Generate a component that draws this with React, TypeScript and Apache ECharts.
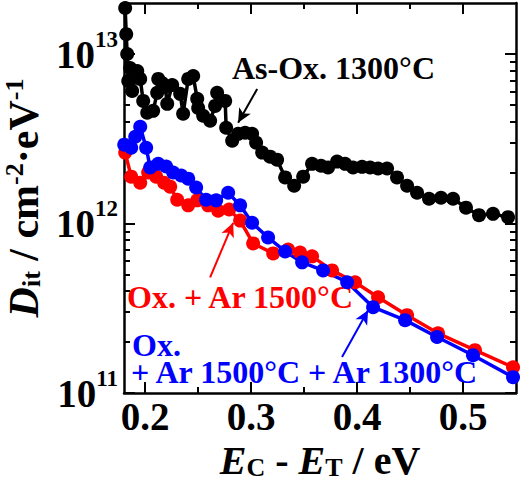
import * as echarts from "echarts";
import React, { useEffect, useRef } from "react";

// As-Ox. 1300°C
const blackX = [
  0.1811, 0.1821, 0.183, 0.184, 0.1858, 0.1877, 0.1925, 0.1953, 0.1981, 0.2019,
  0.2075, 0.2113, 0.2123, 0.216, 0.2189, 0.2208, 0.2255, 0.233, 0.2358, 0.2406,
  0.2453, 0.2491, 0.25, 0.2547, 0.2613, 0.266, 0.2679, 0.2755, 0.2764, 0.2821,
  0.2877, 0.2943, 0.3009, 0.3047, 0.3104, 0.3179, 0.3245, 0.3321, 0.3406, 0.3491,
  0.3575, 0.366, 0.3726, 0.3811, 0.3887, 0.3962, 0.4047, 0.4123, 0.4198, 0.4283,
  0.4377, 0.4472, 0.4566, 0.4679, 0.4792, 0.4906, 0.5028, 0.5151, 0.5283, 0.5425
];
const blackY = [
  1.87e13, 1.31e13, 1.0e13, 6.94e12, 8.27e12, 6.06e12, 7.94e12, 7.13e12, 5.29e12, 4.5e12,
  4.62e12, 5.9e12, 7.13e12, 6.75e12, 6.39e12, 5.08e12, 6.57e12, 5.82e12, 4.44e12, 7.13e12,
  7.42e12, 5.44e12, 4.81e12, 4.32e12, 4.04e12, 4.94e12, 5.9e12, 5.29e12, 3.67e12, 3.08e12,
  3.38e12, 3.43e12, 3.38e12, 3.0e12, 2.62e12, 2.48e12, 2.38e12, 1.87e12, 1.67e12, 1.89e12,
  2.25e12, 2.19e12, 2.14e12, 2.32e12, 2.25e12, 2.14e12, 2.16e12, 2.14e12, 2.11e12, 2.11e12,
  1.87e12, 1.67e12, 1.52e12, 1.4e12, 1.42e12, 1.4e12, 1.24e12, 1.12e12, 1.14e12, 1.09e12
];

// Ox. + Ar 1500°C
const redX = [
  0.1811, 0.1868, 0.1953, 0.2028, 0.2104, 0.2179, 0.2236, 0.2302, 0.2406, 0.2491,
  0.2594, 0.2689, 0.2792, 0.2896, 0.3019, 0.3208, 0.3349, 0.3462, 0.3575, 0.3764,
  0.3981, 0.4198, 0.4472, 0.4764, 0.5113, 0.5472
];
const redY = [
  2.62e12, 1.89e12, 1.74e12, 2.0e12, 1.89e12, 1.74e12, 1.65e12, 1.38e12, 1.28e12, 1.37e12,
  1.28e12, 1.19e12, 1.21e12, 1.04e12, 7.63e11, 6.66e11, 7.03e11, 6.75e11, 6.4e11, 5.29e11,
  4.5e11, 3.67e11, 2.88e11, 2.25e11, 1.79e11, 1.42e11
];

// Ox. + Ar 1500°C + Ar 1300°C
const blueX = [
  0.1802, 0.1868, 0.1906, 0.1953, 0.2009, 0.2047, 0.2123, 0.2198, 0.2264, 0.234,
  0.2406, 0.2481, 0.2575, 0.267, 0.2783, 0.2896, 0.3009, 0.316, 0.3321, 0.3481,
  0.3679, 0.3906, 0.4151, 0.4453, 0.4755, 0.5094, 0.5472
];
const blueY = [
  2.92e12, 2.8e12, 3.25e12, 3.72e12, 2.8e12, 2.14e12, 2.25e12, 2.17e12, 2.0e12, 1.92e12,
  1.84e12, 1.63e12, 1.38e12, 1.37e12, 1.52e12, 1.28e12, 1.01e12, 8.27e11, 6.84e11, 5.9e11,
  5.29e11, 4.5e11, 3.21e11, 2.69e11, 2.14e11, 1.67e11, 1.24e11
];

const xMajorTicks = [0.2, 0.3, 0.4, 0.5];
const xMinorTicks = [0.25, 0.35, 0.45];
const yMajorTicks = [1e11, 1e12, 1e13];
const yMinorTicks = [
  2e11, 3e11, 4e11, 5e11, 6e11, 7e11, 8e11, 9e11,
  2e12, 3e12, 4e12, 5e12, 6e12, 7e12, 8e12, 9e12
];

const FONT = '"Liberation Serif", "Times New Roman", serif';
const X_MIN = 0.18;
const X_MAX = 0.55;
const Y_MIN = 1e11;
const Y_MAX = 2e13;

const zip = (xs: number[], ys: number[]) => xs.map((x, i) => [x, ys[i]]);

const gridBox = { left: 124, right: 4, top: 3, bottom: 88 };

const tickAxisX = (gridIndex: number, position: string, ticks: number[], len: number, showLine: boolean) => ({
  type: "value",
  gridIndex,
  position,
  min: X_MIN,
  max: X_MAX,
  axisLine: { show: showLine, onZero: false, lineStyle: { color: "#000", width: 2.5 } },
  axisTick: { show: true, inside: true, length: len, customValues: ticks, lineStyle: { color: "#000", width: 2 } },
  axisLabel: { show: false },
  splitLine: { show: false }
});

const tickAxisY = (gridIndex: number, position: string, ticks: number[], len: number, showLine: boolean) => ({
  type: "log",
  logBase: 10,
  gridIndex,
  position,
  min: Y_MIN,
  max: Y_MAX,
  axisLine: { show: showLine, onZero: false, lineStyle: { color: "#000", width: 2.5 } },
  axisTick: { show: true, inside: true, length: len, customValues: ticks, lineStyle: { color: "#000", width: 2 } },
  axisLabel: { show: false },
  splitLine: { show: false }
});

const App = () => {
  const ref = useRef<HTMLDivElement>(null);

  useEffect(() => {
    document.body.style.margin = "0";
    const chart = echarts.init(ref.current, null, { renderer: "svg" });

    const mainX = {
      ...tickAxisX(0, "bottom", xMajorTicks, 11, true),
      axisLabel: {
        show: true,
        customValues: xMajorTicks,
        margin: 4,
        formatter: (v: number) => v.toFixed(1),
        fontFamily: FONT,
        fontWeight: "bold",
        fontSize: 39,
        color: "#000"
      },
      name: "{i|E}{s|C}{n| - }{i|E}{s|T}{n| / eV}",
      nameLocation: "middle",
      nameGap: 45,
      nameTextStyle: {
        color: "#000",
        rich: {
          i: { fontFamily: FONT, fontSize: 40, fontWeight: "bold", fontStyle: "italic", color: "#000" },
          s: { fontFamily: FONT, fontSize: 26, fontWeight: "bold", color: "#000", padding: [13, 0, 0, 0] },
          n: { fontFamily: FONT, fontSize: 40, fontWeight: "bold", color: "#000" }
        }
      }
    };

    const mainY = {
      ...tickAxisY(0, "left", yMajorTicks, 11, true),
      axisLabel: {
        show: true,
        customValues: yMajorTicks,
        margin: 6,
        formatter: (v: number) => `{b|10}{s|${Math.round(Math.log10(v))}}`,
        rich: {
          b: { fontFamily: FONT, fontSize: 39, fontWeight: "bold", color: "#000" },
          s: { fontFamily: FONT, fontSize: 23, fontWeight: "bold", color: "#000", padding: [0, 0, 30, 0] }
        }
      },
      name: "{i|D}{s|it}{n| / cm}{p|-2}{n|·eV}{p|-1}",
      nameLocation: "middle",
      nameGap: 73,
      nameTextStyle: {
        color: "#000",
        rich: {
          i: { fontFamily: FONT, fontSize: 42, fontWeight: "bold", fontStyle: "italic", color: "#000" },
          s: { fontFamily: FONT, fontSize: 26, fontWeight: "bold", color: "#000", padding: [14, 0, 0, 0] },
          n: { fontFamily: FONT, fontSize: 42, fontWeight: "bold", color: "#000" },
          p: { fontFamily: FONT, fontSize: 26, fontWeight: "bold", color: "#000", padding: [0, 0, 20, 0] }
        }
      }
    };

    const arrow = (color: string, from: number[], to: number[]) => ({
      silent: true,
      animation: false,
      symbol: ["none", "arrow"],
      symbolSize: [10, 14],
      label: { show: false },
      lineStyle: { color, width: 2, type: "solid" },
      emphasis: { disabled: true },
      data: [[{ coord: from }, { coord: to }]]
    });

    const lineSeries = (name: string, color: string, data: number[][], extra = {}) => ({
      name,
      type: "line",
      xAxisIndex: 0,
      yAxisIndex: 0,
      data,
      clip: false,
      symbol: "circle",
      symbolSize: 14,
      showAllSymbol: true,
      lineStyle: { color, width: 3.5 },
      itemStyle: { color },
      emphasis: { disabled: true },
      ...extra
    });

    const annot = (text: string, x: number, y: number, color: string) => ({
      type: "text",
      x,
      y,
      silent: true,
      style: {
        text,
        fill: color,
        fontFamily: FONT,
        fontSize: 32,
        fontWeight: "bold",
        align: "left",
        verticalAlign: "middle",
        textAlign: "left",
        textVerticalAlign: "middle"
      }
    });

    const option = {
      animation: false,
      grid: [
        { ...gridBox, outerBoundsMode: "none" },
        { ...gridBox, outerBoundsMode: "none" }
      ],
      xAxis: [
        mainX,
        tickAxisX(0, "top", xMajorTicks, 11, true),
        tickAxisX(1, "bottom", xMinorTicks, 6, false),
        tickAxisX(1, "top", xMinorTicks, 6, false)
      ],
      yAxis: [
        mainY,
        tickAxisY(0, "right", yMajorTicks, 11, true),
        tickAxisY(1, "left", yMinorTicks, 6, false),
        tickAxisY(1, "right", yMinorTicks, 6, false)
      ],
      series: [
        lineSeries("As-Ox. 1300°C", "#000000", zip(blackX, blackY), {
          markLine: arrow("#000000", [0.3057, 6.22e12], [0.2877, 3.93e12])
        }),
        lineSeries("Ox. + Ar 1500°C", "#ff0000", zip(redX, redY), {
          markLine: arrow("#ff0000", [0.2613, 4.81e11], [0.283, 1.01e12])
        }),
        lineSeries("Ox. + Ar 1500°C + Ar 1300°C", "#0000ff", zip(blueX, blueY), {
          markLine: arrow("#0000ff", [0.3858, 1.63e11], [0.4104, 3.08e11])
        })
      ],
      graphic: [
        annot("As-Ox. 1300°C", 232, 68, "#000000"),
        annot("Ox. + Ar 1500°C", 127, 297, "#ff0000"),
        annot("Ox.", 132, 345, "#0000ff"),
        annot("+ Ar 1500°C + Ar 1300°C", 131, 372, "#0000ff")
      ]
    };

    chart.setOption(option);
    return () => {
      chart.dispose();
    };
  }, []);

  return <div ref={ref} style={{ width: 520, height: 481 }}></div>;
};

export default App;
